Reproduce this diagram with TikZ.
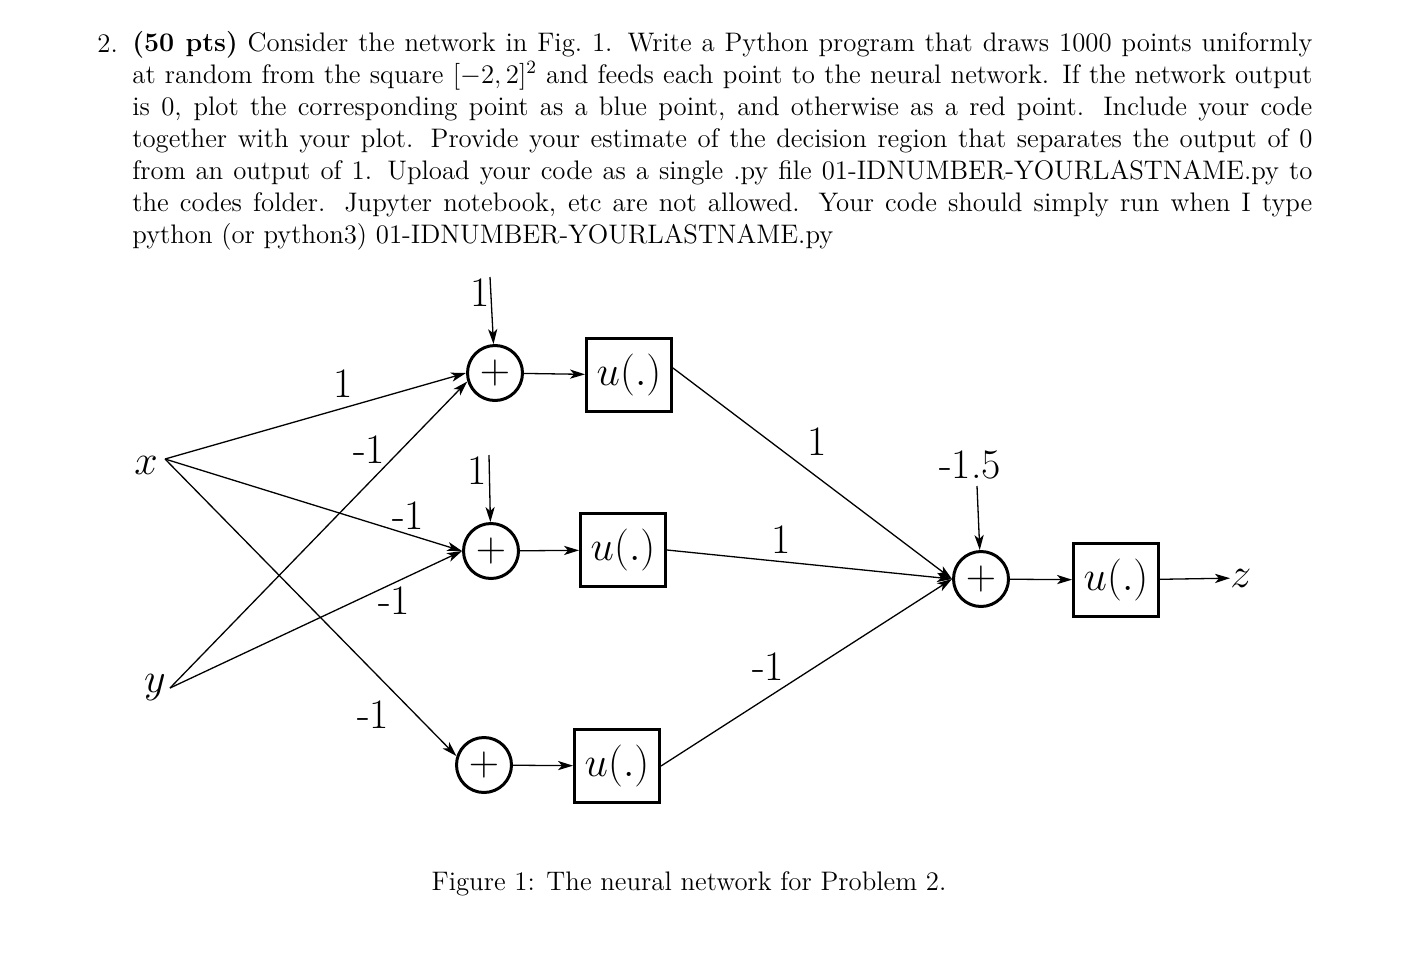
\RequirePackage{fix-cm}
\documentclass[tikz,border=0pt]{standalone}
\usetikzlibrary{arrows.meta}
\tikzset{
  big/.style={font=\fontsize{21}{25}\selectfont},
  sumnode/.style={circle, draw, line width=1.5pt, minimum size=27.5pt, inner sep=0pt, big},
  unitbox/.style={rectangle, draw, line width=1.5pt, minimum width=42.5pt, minimum height=36.5pt, inner sep=0pt, big},
  conn/.style={line width=0.65pt, -{Stealth[length=7.5pt,width=4.6pt,inset=2pt]}},
  wlabel/.style={big, inner sep=0pt},
  bodytext/.style={font=\fontsize{13.4}{16}\selectfont, inner sep=0pt},
}
\begin{document}
\begin{tikzpicture}[x=0.5pt, y=-0.5pt]
\useasboundingbox (0,0) rectangle (1406,958);
% problem text
\node[bodytext, anchor=base west] (num) at (97,52) {2.};
\node[bodytext, anchor=north west, text width=590pt, align=justify] (para) at (132,31)
{\textbf{(50 pts)} Consider the network in Fig.~1. Write a Python program that draws 1000 points uniformly\linebreak
at random from the square $[-2,2]^2$ and feeds each point to the neural network. If the network output\linebreak
is 0, plot the corresponding point as a blue point, and otherwise as a red point.  Include your code\linebreak
together with your plot.  Provide your estimate of the decision region that separates the output of 0\linebreak
from an output of 1.  Upload your code as a single .py file 01-IDNUMBER-YOURLASTNAME.py to\linebreak
the codes folder.  Jupyter notebook, etc are not allowed.  Your code should simply run when I type\linebreak
python (or python3) 01-IDNUMBER-YOURLASTNAME.py};

% inputs
\coordinate (xp) at (165,459);
\coordinate (yp) at (170,688);
\node[big, inner sep=0pt] (xl) at (146,465) {$x$};
\node[big, inner sep=0pt] (yl) at (155,688) {$y$};

% summing nodes and units
\node[sumnode] (A1) at (495,373) {$+$};
\node[sumnode] (A2) at (491,551) {$+$};
\node[sumnode] (A3) at (484,765) {$+$};
\node[sumnode] (A4) at (981,579) {$+$};
\node[unitbox] (B1) at (629,375) {$u(.)$};
\node[unitbox] (B2) at (623,550) {$u(.)$};
\node[unitbox] (B3) at (617,766) {$u(.)$};
\node[unitbox] (B4) at (1116,580) {$u(.)$};
\node[big, inner sep=0pt, anchor=west] (zl) at (1230,578) {$z$};

% biases
\coordinate (b1) at (490,277);
\coordinate (b2) at (489,455);
\coordinate (b3) at (977,486);
\node[wlabel] (b1l) at (480,293) {1};
\node[wlabel] (b2l) at (477,471) {1};
\node[wlabel] (b3l) at (970,465) {-1.5};
\draw[conn] (b1) -- (A1);
\draw[conn] (b2) -- (A2);
\draw[conn] (b3) -- (A4);

% input connections
\draw[conn] (xp) -- (A1.west);
\draw[conn] (yp) -- (A1.197);
\draw[conn] (xp) -- (A2.west);
\draw[conn] (yp) -- (A2.west);
\draw[conn] (xp) -- (A3.162);
\node[wlabel] (w1) at (343,384) {1};
\node[wlabel] (w2) at (369,450) {-1};
\node[wlabel] (w3) at (408,516) {-1};
\node[wlabel] (w4) at (394,601) {-1};
\node[wlabel] (w5) at (373,715) {-1};

% hidden connections
\draw[conn] (A1) -- (B1);
\draw[conn] (A2) -- (B2);
\draw[conn] (A3) -- (B3);
\draw[conn] ([yshift=3.5pt]B1.east) -- (A4.west);
\draw[conn] (B2.east) -- (A4.west);
\draw[conn] (B3.east) -- (A4.west);
\node[wlabel] (w6) at (817,442) {1};
\node[wlabel] (w7) at (781,540) {1};
\node[wlabel] (w8) at (768,667) {-1};

% output
\draw[conn] (A4) -- (B4);
\draw[conn] (B4) -- (zl);

% caption
\node[bodytext, anchor=base] (cap) at (689,890) {Figure 1:  The neural network for Problem 2.};
\end{tikzpicture}
\end{document}
